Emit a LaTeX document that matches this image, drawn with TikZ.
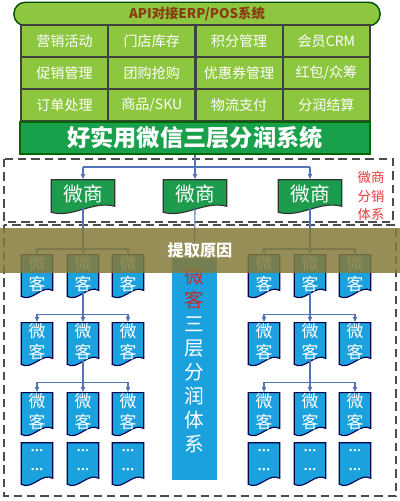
\documentclass[tikz,border=0pt]{standalone}
\usepackage{fontspec}
\setmainfont{Noto Sans CJK SC}
\newfontfamily\dotfont{DejaVu Sans}
\usetikzlibrary{calc,backgrounds,arrows.meta}
\definecolor{cellgreen}{RGB}{141,198,63}
\definecolor{bargreen}{RGB}{25,160,74}
\definecolor{shanggreen}{RGB}{30,156,78}
\definecolor{keblue}{RGB}{27,161,222}
\definecolor{linkblue}{RGB}{84,116,184}
\definecolor{sidered}{RGB}{232,56,61}
\definecolor{kered}{RGB}{184,49,47}
\definecolor{apibrown}{RGB}{139,58,18}
\definecolor{banner}{RGB}{133,122,58}
\tikzset{
  cell/.style={draw=black!75, line width=1.3pt, fill=cellgreen, text=white,
    minimum width=2.175cm, minimum height=0.8cm, font=\fontsize{10}{12}\selectfont},
  shang/.style={minimum width=1.575cm, minimum height=0.7cm, text=white,
    inner sep=0pt, font=\fontsize{14}{14}\selectfont},
  ke/.style={minimum width=0.775cm, minimum height=0.925cm, text=white, align=center,
    inner sep=0pt, font=\fontsize{12}{15.5}\selectfont},
  shangfill/.style={fill=shanggreen, draw=black!80, line width=0.8pt},
  kefill/.style={fill=keblue, draw=black!70!blue, line width=0.8pt},
  link/.style={draw=linkblue, line width=0.8pt},
  arr/.style={link, -{Latex[length=4pt,width=3.5pt]}},
  boxdash/.style={draw=black!70, line width=1.2pt, dash pattern=on 6pt off 3.5pt}
}
% document shape with a wavy bottom, drawn round a named node
\newcommand{\wavedoc}[2]{%
  \filldraw[#2] (#1.north west) -- (#1.north east) -- ($(#1.south east)+(0,-2)$)
    .. controls ($(#1.south east)!0.35!(#1.south west)+(0,-8)$) and ($(#1.south east)!0.65!(#1.south west)+(0,10)$)
    .. ($(#1.south west)+(0,4)$) -- cycle;}

\begin{document}
\begin{tikzpicture}[x=0.025cm, y=-0.025cm]
  \useasboundingbox (0,0) rectangle (400,501);

  % top bar
  \node[draw=black!70!green, line width=1pt, fill=cellgreen, rounded corners=8pt,
    minimum width=9.15cm, minimum height=0.55cm, text=apibrown,
    font=\bfseries\fontsize{9.5}{10}\selectfont] (api) at (197,14) {API对接ERP/POS系统};

  % function cells
  \foreach \txt [count=\i from 0] in {营销活动,门店库存,积分管理,会员CRM,
      促销管理,团购抢购,优惠券管理,红包/众筹,订单处理,商品/SKU,物流支付,分润结算}{
    \pgfmathtruncatemacro{\col}{mod(\i,4)}
    \pgfmathtruncatemacro{\row}{div(\i,4)}
    \node[cell] (cell-\row-\col) at (64.5+87.3*\col, 41+32*\row) {\txt};
  }

  % system bar
  \node[fill=bargreen, draw=black!60!green, line width=1pt, minimum width=8.75cm,
    minimum height=0.75cm, text=white, font=\bfseries\fontsize{16.5}{17}\selectfont]
    (sys) at (195,138) {好实用微信三层分润系统};

  % dashed frames
  \draw[boxdash] (4,159) rectangle (393,222);
  \draw[boxdash] (4,225) rectangle (396,496);

  % weishang
  \node[shang] (wsL) at (83,194) {微商};
  \node[shang] (wsM) at (195,194) {微商};
  \node[shang] (wsR) at (310,194) {微商};
  \node[text=sidered, align=center, font=\fontsize{9.5}{13}\selectfont] (side) at (371,196) {微商\\分销\\体系};

  % weike, three rows each side plus the dots row
  \foreach \s/\xa in {L/37, R/264}{
    \foreach \r/\yc in {1/273.5, 2/341.5, 3/411.5}{
      \foreach \c/\dx in {1/0, 2/46, 3/91}
        \node[ke] (k\s-\r-\c) at (\xa+\dx,\yc) {微\\客};
    }
    \foreach \c/\dx in {1/0, 2/46, 3/91}
      \node[ke, font=\dotfont\bfseries\fontsize{8}{14}\selectfont] (k\s-4-\c) at (\xa+\dx,461.5) {···\\···};
  }

  % middle column
  \node[fill=keblue, minimum width=1.125cm, minimum height=5.55cm] (kebox) at (194.5,369) {};
  \node[align=center, text=white, font=\fontsize{14}{17}\selectfont] (kelabel) at (194.5,360)
    {\textcolor{kered}{微}\\\textcolor{kered}{客}\\三\\层\\分\\润\\体\\系};

  \begin{scope}[on background layer]
    \fill[white] (0,0) rectangle (400,501);
    \foreach \n in {wsL,wsM,wsR} {\wavedoc{\n}{shangfill}}
    \foreach \s in {L,R}
      \foreach \r in {1,2,3,4}
        \foreach \c in {1,2,3} {\wavedoc{k\s-\r-\c}{kefill}}
  \end{scope}

  % connectors
  \coordinate (jtop) at (195,167);
  \draw[link] (sys.south) -- (jtop);
  \draw[link] (jtop -| wsL.north) -- (jtop -| wsR.north);
  \foreach \n in {wsL,wsM,wsR}
    \draw[arr] (jtop -| \n.north) -- (\n.north);
  \draw[arr] (wsM.south) -- (kebox.north);

  \coordinate (jL) at (83,249);
  \coordinate (jR) at (310,249);
  \foreach \s in {L,R}{
    \draw[link] (ws\s.south) -- (j\s);
    \draw[link] (j\s -| k\s-1-1.north) -- (j\s -| k\s-1-3.north);
    \foreach \c in {1,2,3}
      \draw[arr] (j\s -| k\s-1-\c.north) -- (k\s-1-\c.north);
    \foreach \r/\n in {1/2,2/3}{
      \coordinate (j\s\r) at ($(k\s-\r-2.south)+(0,22)$);
      \draw[link] (k\s-\r-2.south) -- (j\s\r);
      \draw[link] (j\s\r -| k\s-\n-1.north) -- (j\s\r -| k\s-\n-3.north);
      \foreach \c in {1,2,3}
        \draw[arr] (j\s\r -| k\s-\n-\c.north) -- (k\s-\n-\c.north);
    }
  }

  % overlay band
  \fill[banner, opacity=0.85] (0,228) rectangle (400,273);
  \node[text=white, font=\bfseries\fontsize{11.5}{12}\selectfont] (band) at (200,250) {提取原因};
\end{tikzpicture}
\end{document}
